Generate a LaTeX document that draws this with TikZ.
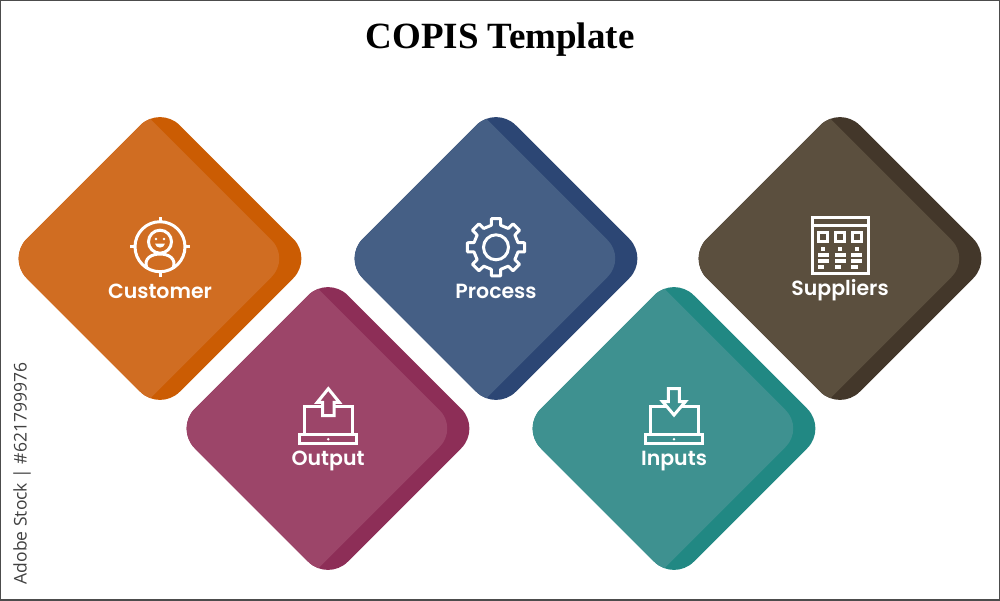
\documentclass[tikz,border=0pt]{standalone}
\usepackage{fontspec}
\setmainfont{Liberation Serif}
\newfontfamily\labelfont{Poppins SemiBold}
\newfontfamily\sidefont{Open Sans}
\definecolor{orangedk}{HTML}{CB5C03}
\definecolor{orangelt}{HTML}{D06D22}
\definecolor{bluedk}{HTML}{2C4674}
\definecolor{bluelt}{HTML}{455F85}
\definecolor{browndk}{HTML}{43372A}
\definecolor{brownlt}{HTML}{5B4F3E}
\definecolor{maroondk}{HTML}{8D2E57}
\definecolor{maroonlt}{HTML}{9C4569}
\definecolor{tealdk}{HTML}{218883}
\definecolor{teallt}{HTML}{3E9190}
\tikzset{
  tilelabel/.style={text=white,font=\labelfont\fontsize{20.5}{24}\selectfont,inner sep=0pt,anchor=base},
  iconline/.style={draw=white,line width=3pt,miter limit=10},
  iconfill/.style={fill=white,draw=none}
}
\begin{document}
\begin{tikzpicture}[x=1pt,y=-1pt]
\useasboundingbox (0,0) rectangle (1000,600);
\fill[white] (0,0) rectangle (1000,600);
\draw[black!70,line width=1.5pt] (0,0) rectangle (1000,600);
\node[font=\bfseries\fontsize{37}{42}\selectfont,inner sep=0pt] (title) at (500,39.5) {COPIS Template};
% tiles
\foreach \cx/\cy/\dk/\lt in {160/258.5/orangedk/orangelt,496/258.5/bluedk/bluelt,840/258.5/browndk/brownlt,328/428.5/maroondk/maroonlt,674/428.5/tealdk/teallt}{
  \begin{scope}[shift={(\cx,\cy)}]
    \fill[\dk,rounded corners=28pt] (-153,0) -- (0,-153) -- (153,0) -- (0,153) -- cycle;
    \begin{scope}
      \clip[rounded corners=28pt] (-153,0) -- (0,-153) -- (153,0) -- (0,153) -- cycle;
      \fill[\lt] (-200,-191) -- (-61,-191) [rounded corners=26pt] -- (130,0) [sharp corners] -- (-61,191) -- (-200,191) -- cycle;
    \end{scope}
  \end{scope}
}
\node[tilelabel] (customer) at (160,298) {Customer};
\node[tilelabel] (process) at (496,298) {Process};
\node[tilelabel] (suppliers) at (840,295) {Suppliers};
\node[tilelabel] (output) at (328,465.7) {Output};
\node[tilelabel] (inputs) at (674,465.7) {Inputs};
% customer icon
\draw[iconline] (160,246.7) circle (25);
\foreach \a in {0,90,180,270}{
  \draw[iconline] (160,246.7) ++(\a:25) -- ++(\a:5);
}
\draw[iconline] (160,241.7) circle (11.5);
\fill[white] (156,239) circle (1.4) (164,239) circle (1.4);
\fill[white] (155,243.5) .. controls (156,249) and (164,249) .. (165,243.5) -- cycle;
\draw[iconline] (147,268.5) .. controls (143,258) and (152,254) .. (160,254) .. controls (168,254) and (177,258) .. (173,268.5);
% gear icon
\draw[iconline,shift={(496,247.3)},line join=round] (-12:22.5) \foreach \a in {0,45,...,315}{ -- (\a-12:22.5) -- (\a-9:29) -- (\a+9:29) -- (\a+12:22.5)} -- cycle;
\draw[iconline] (496,247.3) circle (12.5);
% suppliers icon
\draw[iconline] (812,217) rectangle (868,273);
\draw[iconline] (812,225.5) -- (868,225.5);
\foreach \x in {823.3,840,856.7}{
  \draw[iconline] (\x-4.5,232.5) rectangle (\x+4.5,241.5);
  \fill[iconfill] (\x-2,247.3) rectangle (\x+2,251.3);
  \fill[iconfill] (\x-5.5,253.2) rectangle (\x+5.5,256.8);
  \fill[iconfill] (\x-5.5,259) rectangle (\x+5.5,262.6);
  \fill[iconfill] (\x-5.5,264.8) rectangle (\x+1,268.8);
}
% output icon
\draw[iconline] (299.8,434.8) rectangle (356.8,443.5);
\draw[iconline] (304.3,434.8) -- (304.3,406.7) -- (322.7,406.7);
\draw[iconline] (334,406.7) -- (352.7,406.7) -- (352.7,434.8);
\draw[iconline] (322.7,415.7) -- (322.7,402.3) -- (317.3,402.3) -- (328.3,388.7) -- (339.3,402.3) -- (334,402.3) -- (334,415.7) -- cycle;
\fill[white] (328.3,439.2) circle (1.4);
% inputs icon
\draw[iconline] (645.5,434.8) rectangle (702.8,443.5);
\draw[iconline] (650,434.8) -- (650,406.7) -- (666.7,406.7);
\draw[iconline] (681.3,406.7) -- (698.3,406.7) -- (698.3,434.8);
\draw[iconline] (668.3,388.7) -- (668.3,401.7) -- (662.7,401.7) -- (674,415) -- (685.3,401.7) -- (679.3,401.7) -- (679.3,388.7) -- cycle;
\fill[white] (674,439.2) circle (1.4);
% side text
\node[rotate=90,font=\sidefont\fontsize{17.5}{22}\selectfont,text=black!75,inner sep=0pt] (stock) at (22,473.5) {Adobe Stock | \#621799976};
\end{tikzpicture}
\end{document}
